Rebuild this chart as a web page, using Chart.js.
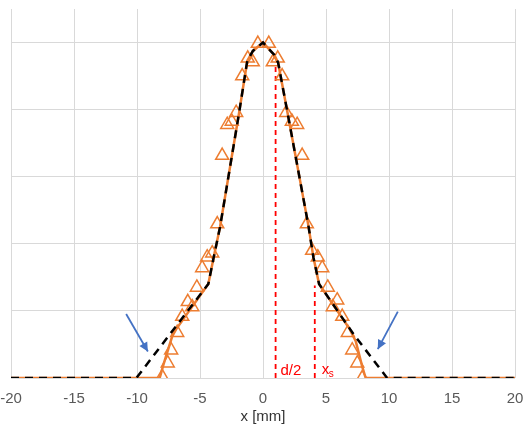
<!DOCTYPE html>
<html>
<head>
<meta charset="utf-8">
<script src="https://cdn.jsdelivr.net/npm/chart.js@4.4.0/dist/chart.umd.min.js"></script>
<style>
  html, body { margin: 0; padding: 0; background: #fff; overflow: hidden; }
  #wrap { width: 525px; height: 425px; }
</style>
</head>
<body>
<div id="wrap"><canvas id="profile"></canvas></div>
<script>
// measured points (triangles)
const measX = [-0.41, 0.46, -1.21, -0.81, 0.78, 1.17, -1.65, 1.52, -2.13, -2.48, -2.84, 1.84, 2.29, 2.71,
               -3.24, 3.11, -3.63, 3.48, -4.03, -4.43, -4.83, 3.9, 4.35, 4.7, -5.25, 5.14, -5.97, -5.62,
               5.89, 5.54, -6.41, 6.29, -6.81, 6.73, -7.29, 7.08, -7.56, 7.48, -8.0, 7.87];
const measY = [0.997, 0.997, 0.953, 0.942, 0.942, 0.953, 0.90, 0.90, 0.791, 0.765, 0.755, 0.791, 0.765, 0.755,
               0.663, 0.663, 0.459, 0.459, 0.372, 0.36, 0.328, 0.38, 0.36, 0.328, 0.27, 0.27, 0.227, 0.212,
               0.232, 0.212, 0.183, 0.183, 0.135, 0.135, 0.083, 0.083, 0.044, 0.044, 0.004, 0.0];

// model (black dashed)
const modelX = [-20, -10.05, -4.34, -3.9, -3.41, -1.9, -1.25, -0.8, 0, 0.9, 1.2, 1.95, 3.6, 4.0, 4.45, 7.2, 9.85, 20];
const modelY = [0, 0, 0.28, 0.362, 0.45, 0.79, 0.945, 0.975, 1, 0.963, 0.94, 0.79, 0.455, 0.36, 0.28, 0.13, 0, 0];

// fitted profile (orange solid)
const fitX = [-20, -8.2, -7.9, -7.2, -6.9, -4.34, -3.9, -3.41, -1.9, -1.25, -0.8, 0, 0.9, 1.2, 1.95, 3.6, 4.0, 4.45, 6.83, 7.36, 7.88, 8.15, 20];
const fitY = [0, 0, 0.04, 0.125, 0.145, 0.28, 0.362, 0.45, 0.79, 0.945, 0.975, 1, 0.963, 0.94, 0.79, 0.455, 0.36, 0.28, 0.149, 0.11, 0.033, 0, 0];

// red markers: d/2 and x_s
const halfDX = 1.0, halfDTop = 0.94;
const xsX = 4.11, xsTop = 0.276;

// blue arrows [startX, startY, tipX, tipY]
const arrowLeft = [-10.86, 0.191, -9.14, 0.079];
const arrowRight = [10.7, 0.198, 9.11, 0.086];

const xTicks = [-20, -15, -10, -5, 0, 5, 10, 15, 20];
const yTicks = [0, 0.2, 0.4, 0.6, 0.8, 1.0];

function pts(xs, ys) { return xs.map((x, i) => ({ x: x, y: ys[i] })); }

const FONT = "'Liberation Sans', Arial, sans-serif";

const annotations = {
    id: 'annotations',
    afterDatasetsDraw(chart) {
        const c = chart.ctx, sx = chart.scales.x, sy = chart.scales.y;
        c.save();
        // arrow heads
        [arrowLeft, arrowRight].forEach(a => {
            const x0 = sx.getPixelForValue(a[0]), y0 = sy.getPixelForValue(a[1]);
            const x1 = sx.getPixelForValue(a[2]), y1 = sy.getPixelForValue(a[3]);
            const ang = Math.atan2(y1 - y0, x1 - x0);
            const len = 9, w = 4.5;
            c.fillStyle = '#4472C4';
            c.beginPath();
            c.moveTo(x1, y1);
            c.lineTo(x1 - len * Math.cos(ang) + w * Math.sin(ang), y1 - len * Math.sin(ang) - w * Math.cos(ang));
            c.lineTo(x1 - len * Math.cos(ang) - w * Math.sin(ang), y1 - len * Math.sin(ang) + w * Math.cos(ang));
            c.closePath();
            c.fill();
        });
        // labels
        c.fillStyle = '#FF0000';
        c.textBaseline = 'alphabetic';
        c.textAlign = 'left';
        c.font = '15px ' + FONT;
        c.fillText('d/2', sx.getPixelForValue(1.39), sy.getPixelForValue(0.009));
        const xl = sx.getPixelForValue(4.67), yl = sy.getPixelForValue(0.012);
        c.fillText('x', xl, yl);
        c.font = '10px ' + FONT;
        c.fillText('s', xl + c.measureText('x').width + 2, yl + 3);
        c.restore();
    }
};

const ctx = document.getElementById('profile').getContext('2d');
new Chart(ctx, {
    type: 'scatter',
    data: {
        datasets: [
            {
                label: 'Model',
                data: pts(modelX, modelY),
                showLine: true,
                borderColor: '#000000',
                borderWidth: 2.5,
                borderDash: [8, 6],
                pointRadius: 0,
                order: 1
            },
            {
                label: 'Fit',
                data: pts(fitX, fitY),
                showLine: true,
                borderColor: '#ED7D31',
                borderWidth: 2.5,
                pointRadius: 0,
                order: 2
            },
            {
                label: 'Measured',
                data: pts(measX, measY),
                pointStyle: 'triangle',
                pointRadius: 7.5,
                pointBorderWidth: 1.5,
                pointBorderColor: '#ED7D31',
                pointBackgroundColor: 'rgba(255,255,255,0)',
                order: 3
            },
            {
                label: 'd/2',
                data: pts([halfDX, halfDX], [0, halfDTop]),
                showLine: true,
                borderColor: '#FF0000',
                borderWidth: 1.8,
                borderDash: [5, 4],
                pointRadius: 0,
                order: 4
            },
            {
                label: 'xs',
                data: pts([xsX, xsX], [0, xsTop]),
                showLine: true,
                borderColor: '#FF0000',
                borderWidth: 1.8,
                borderDash: [5, 4],
                pointRadius: 0,
                order: 4
            },
            {
                label: 'arrowL',
                data: pts([arrowLeft[0], arrowLeft[2]], [arrowLeft[1], arrowLeft[3]]),
                showLine: true,
                borderColor: '#4472C4',
                borderWidth: 1.8,
                pointRadius: 0,
                order: 0
            },
            {
                label: 'arrowR',
                data: pts([arrowRight[0], arrowRight[2]], [arrowRight[1], arrowRight[3]]),
                showLine: true,
                borderColor: '#4472C4',
                borderWidth: 1.8,
                pointRadius: 0,
                order: 0
            }
        ]
    },
    options: {
        responsive: true,
        maintainAspectRatio: false,
        animation: false,
        layout: { padding: { left: 11, right: 10, top: 0, bottom: 0 } },
        plugins: {
            legend: { display: false },
            tooltip: { enabled: false }
        },
        scales: {
            x: {
                type: 'linear',
                min: -20,
                max: 20,
                afterBuildTicks: s => { s.ticks = xTicks.map(v => ({ value: v })); },
                afterFit: s => { s.height = 47; s.paddingLeft = 0; s.paddingRight = 0; },
                ticks: { color: '#595959', font: { size: 15, family: FONT }, padding: 12 },
                grid: { color: '#D9D9D9', lineWidth: 1, drawTicks: false },
                border: { display: false },
                title: { display: true, text: 'x [mm]', color: '#333333', font: { size: 15, family: FONT }, padding: { top: 0, bottom: -1 } }
            },
            y: {
                min: 0,
                max: 1.1,
                afterBuildTicks: s => { s.ticks = yTicks.map(v => ({ value: v })); },
                afterFit: s => { s.width = 0; s.paddingTop = 0; s.paddingBottom = 0; },
                ticks: { display: false },
                grid: { color: '#D9D9D9', lineWidth: 1, drawTicks: false },
                border: { display: false }
            }
        }
    },
    plugins: [annotations]
});
</script>
</body>
</html>
